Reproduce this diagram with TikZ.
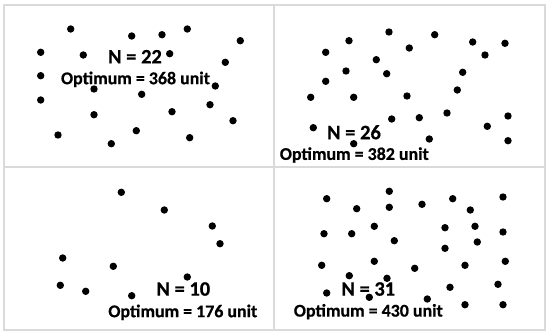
\documentclass[tikz,border=0pt]{standalone}
\usepackage{fontspec}
\setmainfont{Carlito}[BoldFeatures={FakeBold=0.6}]
\usepackage{xcolor}
\definecolor{framegray}{RGB}{218,218,218}
\tikzset{
  dot/.style={fill=black},
  countlabel/.style={font=\fontsize{20.5}{22}\selectfont\bfseries, inner sep=0pt},
  optlabel/.style={font=\fontsize{17.9}{20}\selectfont\bfseries, inner sep=0pt}
}

\begin{document}
\begin{tikzpicture}[x=1pt, y=-1pt]
  \useasboundingbox (0,0) rectangle (550,335);
  \fill[white] (0,0) rectangle (550,335);
  \draw[framegray, line width=1.2pt] (4,5) rectangle (545,330);
  \draw[framegray, line width=1.2pt] (274,5) -- (274,330);
  \draw[framegray, line width=1.2pt] (4,167) -- (545,167);
  % N = 22
  \foreach \x/\y in {70.7/29, 131.7/36, 162/34.7, 187.3/29, 240.3/40.7, 40.7/52.3, 83.3/55,
    169.7/53.7, 225.3/62.3, 40.7/75.7, 94/89, 215.3/86, 141.7/94.3, 40.7/100, 210/104.7,
    94/114.7, 172/111.7, 233/120.7, 58/135, 136.3/130.7, 189.7/137.7, 111.3/143.7}
    \fill[dot] (\x,\y) circle (3.7);
  \node[countlabel] (n22) at (135,56.7) {N = 22};
  \node[optlabel] (opt22) at (135.5,79.3) {Optimum = 368 unit};
  % N = 26
  \foreach \x/\y in {389/32, 434.7/34.7, 349/40.7, 472.7/42, 505/43.3, 325.7/52.3, 409.3/48,
    485/55, 376.3/59.7, 346/71, 386.7/73.7, 462.7/72.3, 325.7/81.3, 457.3/90, 310.7/97.3,
    353.7/97.3, 407/96, 447/113, 391.7/119, 419.3/117.7, 508/116, 313.3/127.7, 487.3/126.3,
    353.7/143.7, 429.3/139, 508/140.7}
    \fill[dot] (\x,\y) circle (3.7);
  \node[countlabel] (n26) at (354,132.3) {N = 26};
  \node[optlabel] (opt26) at (354.3,155) {Optimum = 382 unit};
  % N = 10
  \foreach \x/\y in {121.3/192.3, 164.3/210, 212.3/226, 220/243.7, 62.7/258, 113.3/266.3,
    187.3/277, 60.3/285.3, 85.7/291.3, 131.7/295.7}
    \fill[dot] (\x,\y) circle (3.7);
  \node[countlabel] (n10) at (183.3,289) {N = 10};
  \node[optlabel] (opt10) at (182.8,312.3) {Optimum = 176 unit};
  % N = 31
  \foreach \x/\y in {389.3/191.3, 326.7/198.7, 452.7/198.7, 503/197, 356.7/208.7, 389.3/207.3,
    422/204.3, 470.3/210, 374.3/226.3, 445/227.7, 475/226.3, 324/233.7, 351.7/233.7, 503/232,
    394.3/240.7, 477.3/242, 445/248.3, 321.7/265.3, 374.3/261.3, 414.7/268.3, 465/265.3,
    505.3/261.3, 349.3/275.7, 387/278.3, 450/287.3, 498/284.3, 326.7/293, 369.3/297.3,
    427.3/299, 465/304.7, 503/304.7}
    \fill[dot] (\x,\y) circle (3.7);
  \node[countlabel] (n31) at (368.3,289) {N = 31};
  \node[optlabel] (opt31) at (368.3,311.7) {Optimum = 430 unit};
\end{tikzpicture}
\end{document}
